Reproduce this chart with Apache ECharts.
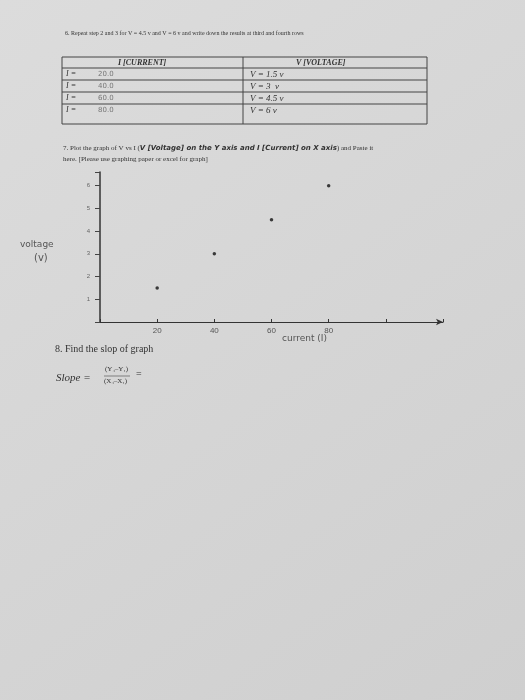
<!DOCTYPE html>
<html><head><meta charset="utf-8">
<script src="https://cdn.jsdelivr.net/npm/echarts@6/dist/echarts.min.js"></script>
<style>html,body{margin:0;padding:0;background:#d6d6d6}#c{width:525px;height:700px}</style>
</head><body><div id="c"></div>
<script>
// measured current (I) and voltage (V)
var current = [20, 40, 60, 80];
var voltage = [1.5, 3, 4.5, 6];
var currentText = ['20.0', '40.0', '60.0', '80.0'];
var voltageText = ['V = 1.5 v', 'V = 3  v', 'V = 4.5 v', 'V = 6 v'];
var yTicks = [1, 2, 3, 4, 5, 6];
var xTicks = [20, 40, 60, 80];

var chart = echarts.init(document.getElementById('c'));
var serif = 'Liberation Serif';
var ink = '#333';

var g = [];
function txt(x, y, s, o) {
  g.push({ type: 'text', left: x, top: y, style: Object.assign({ text: s, fill: ink, font: '9px ' + serif }, o || {}) });
}
function ln(x1, y1, x2, y2, w) {
  g.push({ type: 'line', shape: { x1: x1, y1: y1, x2: x2, y2: y2 }, style: { stroke: '#444', lineWidth: w || 1 } });
}
txt(65, 30, '6. Repeat step 2 and 3 for V = 4.5 v and V = 6 v and write down the results at third and fourth rows', { font: '6px ' + serif });
// table
var rows = [57, 68, 80, 92, 104, 124];
rows.forEach(function (y) { ln(62, y, 427, y); });
ln(62, 57, 62, 124); ln(243, 57, 243, 124); ln(427, 57, 427, 124);
txt(118, 59, 'I [CURRENT]', { font: 'italic bold 8px ' + serif });
txt(296, 59, 'V [VOLTAGE]', { font: 'italic bold 8px ' + serif });
for (var i = 0; i < 4; i++) {
  txt(66, rows[i + 1] + 2, 'I =', { font: 'italic 8px ' + serif });
  txt(98, rows[i + 1] + 3, currentText[i], { font: '7px DejaVu Sans', fill: '#777' });
  txt(250, rows[i + 1] + 2, voltageText[i], { font: 'italic 9px ' + serif });
}
g.push({ type: 'text', left: 63, top: 145, style: {
  text: '{a|7. Plot the graph of V vs I (}{b|V [Voltage] on the Y axis and I [Current] on X axis}{a|) and Paste it}',
  rich: { a: { font: '7px ' + serif, fill: ink }, b: { font: 'bold italic 7px DejaVu Sans', fill: ink } } } });
txt(63, 156, 'here. [Please use graphing paper or excel for graph]', { font: '7px ' + serif });
txt(20, 240, 'voltage', { font: '9px DejaVu Sans', fill: '#555' });
txt(34, 253, '(v)', { font: '10px DejaVu Sans', fill: '#555' });
txt(282, 334, 'current (I)', { font: '9px DejaVu Sans', fill: '#555' });
txt(55, 344, '8. Find the slop of graph', { font: '10px ' + serif });
txt(56, 373, 'Slope =', { font: 'italic 11px ' + serif });
txt(105, 366, '(Y\u2084\u2013Y\u2081)', { font: '7px ' + serif });
ln(104, 376, 130, 376, 0.6);
txt(104, 378, '(X\u2084\u2013X\u2081)', { font: '7px ' + serif });
txt(136, 369, '=', { font: '10px ' + serif });

chart.setOption({
  backgroundColor: new echarts.graphic.LinearGradient(0, 0, 1, 1, [
    { offset: 0, color: '#dcdcdc' }, { offset: 1, color: '#cfcfcf' }]),
  animation: false,
  grid: { left: 100, right: 82, top: 172, bottom: 378 },
  xAxis: {
    type: 'value', min: 0, max: 120, interval: 20,
    axisLine: { lineStyle: { color: '#333', width: 1.2 }, symbol: ['none', 'arrow'], symbolSize: [5, 7] },
    axisTick: { show: true, length: 3, inside: true, lineStyle: { color: '#333' } },
    axisLabel: { color: '#555', fontSize: 8, margin: 5,
      formatter: function (v) { return xTicks.indexOf(v) >= 0 ? v : ''; } },
    splitLine: { show: false }
  },
  yAxis: {
    type: 'value', min: 0, max: 6.6, interval: 1,
    axisLine: { show: true, lineStyle: { color: '#333', width: 1.5 } },
    axisTick: { show: true, length: 5, lineStyle: { color: '#444' } },
    axisLabel: { color: '#666', fontSize: 6, margin: 10,
      formatter: function (v) { return yTicks.indexOf(v) >= 0 ? v : ''; } },
    splitLine: { show: false }
  },
  series: [{
    type: 'scatter', symbolSize: 3.5, itemStyle: { color: '#111' },
    data: current.map(function (c, i) { return [c, voltage[i]]; })
  }],
  graphic: g
});
</script></body></html>
